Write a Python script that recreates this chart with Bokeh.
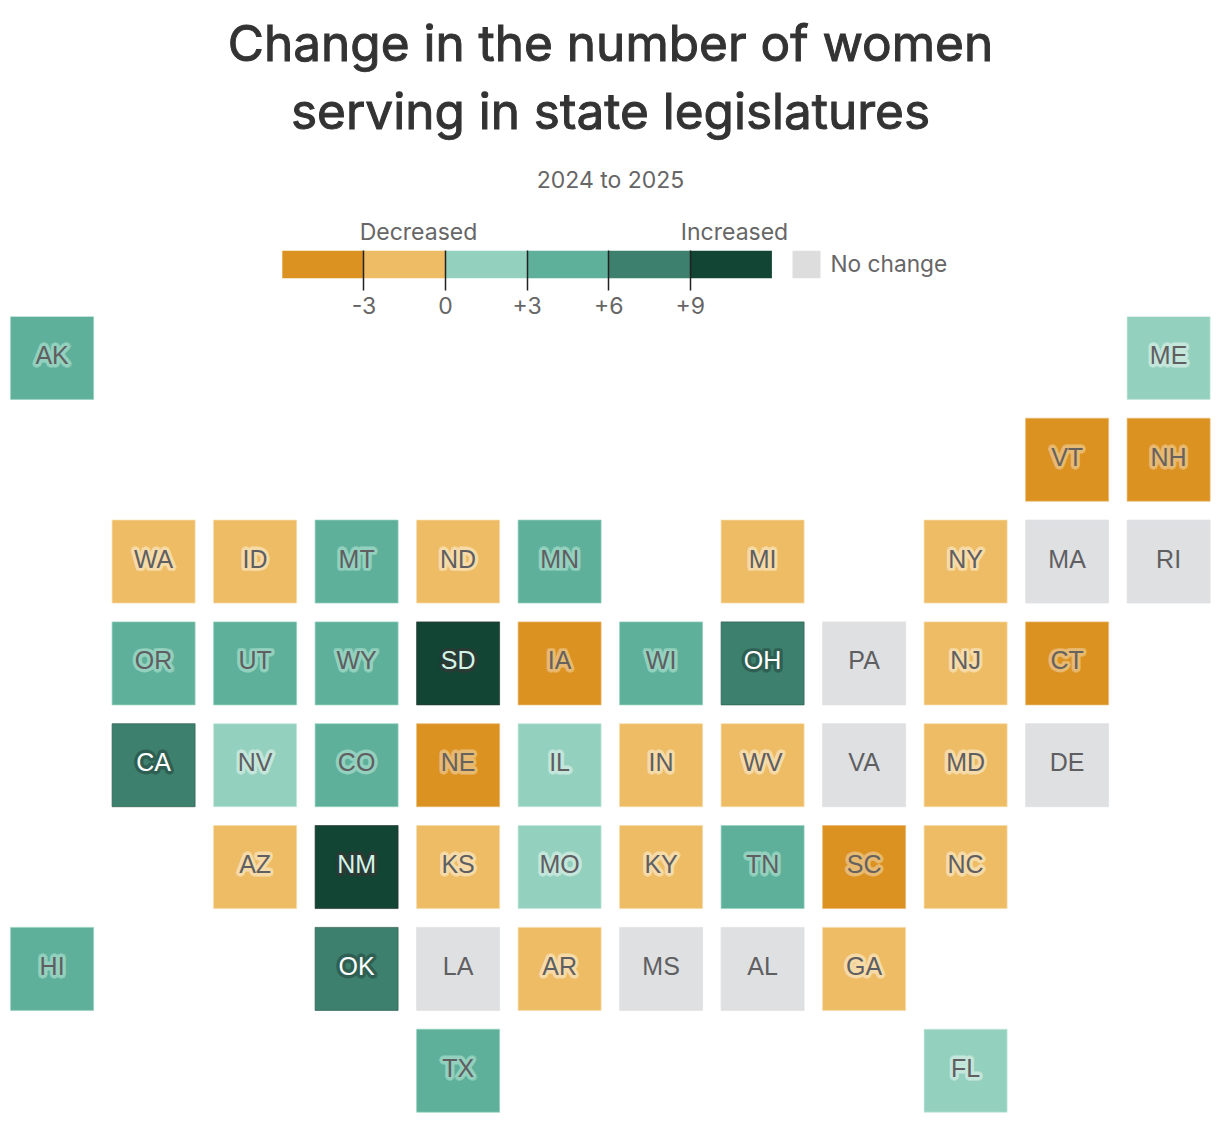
from bokeh.plotting import figure
from bokeh.layouts import column
from bokeh.models import ColumnDataSource, Label, LinearAxis, FixedTicker, Range1d
from bokeh.core.properties import value
from bokeh.embed import file_html
from bokeh.resources import INLINE
import math

TITLE = ["Change in the number of women", "serving in state legislatures"]
SUBTITLE = "2024 to 2025"
legend_edges = [-6, -3, 0, 3, 6, 9, 12]
legend_colors = ["#DC9220", "#EEBC65", "#93D1BE", "#5FB09A", "#3C806D", "#124534"]
legend_ticks = [-3, 0, 3, 6, 9]
legend_tick_labels = ["-3", "0", "+3", "+6", "+9"]

states = ["AK","ME","VT","NH","WA","ID","MT","ND","MN","MI","NY","MA","RI",
          "OR","UT","WY","SD","IA","WI","OH","PA","NJ","CT",
          "CA","NV","CO","NE","IL","IN","WV","VA","MD","DE",
          "AZ","NM","KS","MO","KY","TN","SC","NC",
          "HI","OK","LA","AR","MS","AL","GA","TX","FL"]
cols = [0,11,10,11,1,2,3,4,5,7,9,10,11,
        1,2,3,4,5,6,7,8,9,10,
        1,2,3,4,5,6,7,8,9,10,
        2,3,4,5,6,7,8,9,
        0,3,4,5,6,7,8,4,9]
rows = [0,0,1,1,2,2,2,2,2,2,2,2,2,
        3,3,3,3,3,3,3,3,3,3,
        4,4,4,4,4,4,4,4,4,4,
        5,5,5,5,5,5,5,5,
        6,6,6,6,6,6,6,7,7]
# change in seats, read to the colour band of each tile
changes = [4,2,-4,-4,-1,-1,4,-1,4,-1,-1,0,0,
           4,4,4,10,-4,4,7,0,-1,-4,
           7,2,4,-4,2,-1,-1,0,-1,0,
           -1,10,-1,2,-1,4,-4,-1,
           4,7,0,-1,0,0,-1,4,2]

GREY = "#DFE0E2"
def band(v):
    if v == 0:
        return GREY, "#5F5F62", GREY
    if v <= -3:
        return "#DC9220", "#66625E", "#E8B971"
    if v < 0:
        return "#EEBC65", "#5F5F62", "#F6DBA8"
    if v < 3:
        return "#93D1BE", "#5F5F62", "#C4E6DB"
    if v < 6:
        return "#5FB09A", "#5F5F62", "#93D1BE"
    if v < 9:
        return "#3C806D", "#FFFFFF", "#2F5F52"
    return "#124534", "#D2F5E8", "#2B3A35"

fills, inks, halos = zip(*[band(v) for v in changes])

FONT = "Liberation Sans"
UI = "Inter"
INK = "#333333"
MUTED = "#666666"
UNIT = 27.2
W = 1216
XL = (0 - 445) / UNIT
XR = (W - 445) / UNIT

# ---- title block -----
top = figure(width=W, height=250, output_backend="svg", toolbar_location=None,
             x_range=Range1d(0, W), y_range=Range1d(250, 0), x_axis_location=None,
             y_axis_location=None, min_border=0, outline_line_color=None)
top.grid.visible = False

def lab(text, x, y, size, color, align="center", **kw):
    top.add_layout(Label(x=x, y=y, text=text, text_font=UI, text_font_size=size,
                         text_color=color, text_align=align, text_baseline="middle", **kw))

lab(TITLE[0], 610, 42, "49.5px", INK, text_outline_color=INK)
lab(TITLE[1], 610, 110, "49.5px", INK, text_outline_color=INK)
lab(SUBTITLE, 610, 179, "23px", MUTED)
lab("Decreased", 418, 231, "23px", MUTED)
lab("Increased", 734, 231, "23px", MUTED)

# ---- colour legend -----
head = figure(width=W, height=76, output_backend="svg", toolbar_location=None,
              x_range=Range1d(XL, XR), y_range=Range1d(0, 1), x_axis_location=None,
              y_axis_location=None, min_border_top=0, min_border_bottom=48,
              min_border_left=0, min_border_right=0, outline_line_color=None)
head.grid.visible = False
head.quad(left=legend_edges[:-1], right=legend_edges[1:], bottom=0, top=1,
          fill_color=legend_colors, line_color=None)
axis = LinearAxis(ticker=FixedTicker(ticks=legend_ticks),
                  major_label_overrides=dict(zip(legend_ticks, legend_tick_labels)),
                  axis_line_color=None, major_tick_line_color="#222222", major_tick_line_width=1.5,
                  major_tick_in=28, major_tick_out=12, minor_tick_line_color=None,
                  major_label_text_font=UI, major_label_text_font_size="23px",
                  major_label_text_color=MUTED, major_label_standoff=6)
head.add_layout(axis, "below")
head.rect(x=[(806 - 445) / UNIT], y=[0.5], width=28 / UNIT, height=1, fill_color="#DDDDDD", line_color=None)
head.add_layout(Label(x=(830 - 445) / UNIT, y=0.5, text="No change", text_font=UI, text_font_size="22.7px",
                      text_color=MUTED, text_align="left", text_baseline="middle", y_offset=1))

# ---- tile grid (its top overlaps the empty foot of the legend, so it is see-through) -----
PITCH_X, PITCH_Y = 101.5, 101.83
grid = figure(width=W, height=802, output_backend="svg", toolbar_location=None,
              x_range=Range1d((0 - 51.6) / PITCH_X, (W - 51.6) / PITCH_X),
              y_range=Range1d((1118 - 357.4) / PITCH_Y, (316 - 357.4) / PITCH_Y),
              x_axis_location=None, y_axis_location=None, min_border=0, outline_line_color=None,
              background_fill_color=None, border_fill_color=None, margin=(-10, 0, 0, 0))
grid.grid.visible = False
src = ColumnDataSource(dict(state=states, col=cols, row=rows, change=changes,
                            fill=fills, ink=inks, halo=halos))
grid.rect(x="col", y="row", width=83 / PITCH_X, height=83 / PITCH_Y,
          fill_color="fill", line_color="halo", line_width=0.7, source=src)

# halo round the labels of the coloured tiles: copies of the label in a tint, in a small ring
keep = [i for i, v in enumerate(changes) if v != 0]
halo_src = ColumnDataSource(dict(state=[states[i] for i in keep], col=[cols[i] for i in keep],
                                 row=[rows[i] for i in keep], halo=[halos[i] for i in keep]))
for k in range(8):
    a = k * math.pi / 4
    grid.text(x="col", y="row", text="state", text_font=value(FONT), text_font_size="25px",
              x_offset=2.8 * math.cos(a), y_offset=-3 + 2.8 * math.sin(a),
              text_color="halo", text_align="center", text_baseline="middle",
              text_outline_color="halo", source=halo_src)
grid.text(x="col", y="row", text="state", text_font=value(FONT), text_font_size="25px", y_offset=-3,
          text_color="ink", text_align="center", text_baseline="middle", source=src)

page = column(top, head, grid, spacing=0)
open("out.html", "w").write(file_html(page, INLINE))
